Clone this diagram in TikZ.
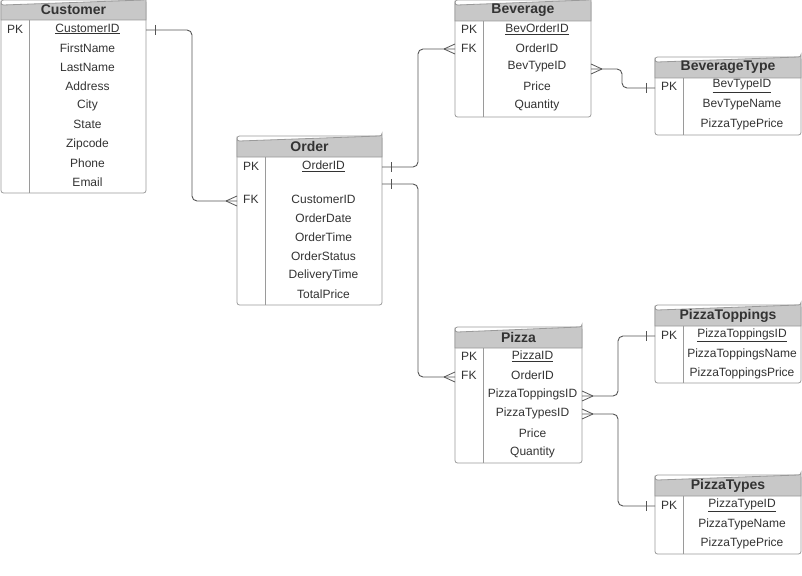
\documentclass[tikz,border=0pt]{standalone}
\usepackage{fontspec}
\setmainfont{Liberation Sans}
\begin{document}
\definecolor{hdr}{HTML}{C8C8C8}
\definecolor{brd}{HTML}{9A9A9A}
\definecolor{txt}{HTML}{333333}
\definecolor{ln}{HTML}{555555}
\tikzset{
  tbl/.style={draw=brd,line width=0.8pt,fill=white,rounded corners=2.5pt},
  hd/.style={draw=brd,line width=0.8pt,fill=hdr},
  title/.style={font=\fontsize{14}{14}\selectfont\bfseries,text=txt,inner sep=0},
  fld/.style={font=\fontsize{12}{12}\selectfont,text=txt,inner sep=0},
  conn/.style={draw=ln,line width=0.9pt,rounded corners=5pt},
  erm/.style={draw=ln,line width=0.8pt}
}
% #1 name, #2 x1, #3 x2, #4 ytop, #5 yhead, #6 ybot, #7 divider, #8 title
\newcommand\ertbl[8]{%
  \draw[tbl] (#2,#4) rectangle (#3,#6);
  \draw[hd] (#2,#5) -- (#2,#4+2.5) arc[start angle=180,end angle=90,radius=2.5] -- (#3-2.5,#4) arc[start angle=90,end angle=0,radius=2.5] -- (#3,#5) -- cycle;
  \draw[brd,line width=0.8pt] (#7,#5) -- (#7,#6);
  \node[title] (#1) at ({(#2+#3)/2},{(#4+#5)/2}) {#8};
}
\begin{tikzpicture}[x=1pt,y=-1pt]
\useasboundingbox (0,0) rectangle (802,575);
% Customer
\ertbl{cust}{1}{146}{0}{20}{193}{29}{Customer}
\node[fld] (c1) at (87.5,29) {\underline{CustomerID}};
\node[fld,anchor=west] (c1k) at (7,29) {PK};
\foreach \t/\y [count=\i] in {FirstName/48,LastName/67,Address/86,City/105,State/124,Zipcode/144,Phone/163,Email/182}
  \node[fld] (cf\i) at (87.5,\y) {\t};
% Order
\ertbl{ord}{237}{382}{136}{157}{305}{265}{Order}
\node[fld] (o1) at (323.5,166) {\underline{OrderID}};
\node[fld,anchor=west] (o1k) at (243,166) {PK};
\node[fld,anchor=west] (o2k) at (243,199) {FK};
\foreach \t/\y [count=\i] in {CustomerID/199,OrderDate/218,OrderTime/237,OrderStatus/256,DeliveryTime/275,TotalPrice/294}
  \node[fld] (of\i) at (323.5,\y) {\t};
% Beverage
\ertbl{bev}{455}{591}{0}{21}{117}{483}{Beverage}
\node[fld] (b1) at (537,29) {\underline{BevOrderID}};
\node[fld,anchor=west] (b1k) at (461,29) {PK};
\node[fld,anchor=west] (b2k) at (461,48) {FK};
\foreach \t/\y [count=\i] in {OrderID/48,BevTypeID/67,Price/86,Quantity/105}
  \node[fld] (bf\i) at (537,\y) {\t};
% BeverageType
\ertbl{bt}{655}{801}{57}{78}{135}{683}{BeverageType}
\node[fld] (t1) at (742,86) {\underline{BevTypeID}};
\node[fld,anchor=west] (t1k) at (661,86) {PK};
\foreach \t/\y [count=\i] in {BevTypeName/105,PizzaTypePrice/124}
  \node[fld] (tf\i) at (742,\y) {\t};
% Pizza
\ertbl{piz}{455}{582}{327}{348}{463}{483}{Pizza}
\node[fld] (p1) at (532.5,356) {\underline{PizzaID}};
\node[fld,anchor=west] (p1k) at (461,356) {PK};
\node[fld,anchor=west] (p2k) at (461,375) {FK};
\foreach \t/\y [count=\i] in {OrderID/375,PizzaToppingsID/394,PizzaTypesID/413,Price/433,Quantity/452}
  \node[fld] (pf\i) at (532.5,\y) {\t};
% PizzaToppings
\ertbl{top}{655}{801}{305}{326}{383}{683}{PizzaToppings}
\node[fld] (q1) at (742,335) {\underline{PizzaToppingsID}};
\node[fld,anchor=west] (q1k) at (661,335) {PK};
\foreach \t/\y [count=\i] in {PizzaToppingsName/354,PizzaToppingsPrice/373}
  \node[fld] (qf\i) at (742,\y) {\t};
% PizzaTypes
\ertbl{pty}{655}{801}{475}{496}{554}{683}{PizzaTypes}
\node[fld] (r1) at (742,505) {\underline{PizzaTypeID}};
\node[fld,anchor=west] (r1k) at (661,505) {PK};
\foreach \t/\y [count=\i] in {PizzaTypeName/524,PizzaTypePrice/543}
  \node[fld] (rf\i) at (742,\y) {\t};
% connector end points
\coordinate (cA) at (146,30); \coordinate (oA) at (237,201);
\coordinate (oB) at (382,167); \coordinate (bA) at (455,49);
\coordinate (oC) at (382,184); \coordinate (pA) at (455,377);
\coordinate (bB) at (591,69); \coordinate (tA) at (655,88);
\coordinate (pB) at (582,396); \coordinate (qA) at (655,336);
\coordinate (pC) at (582,414); \coordinate (rA) at (655,506);
\draw[conn] (cA) -| (192,115) |- (oA);
\draw[conn] (oB) -| (418,100) |- (bA);
\draw[conn] (oC) -| (418,300) |- (pA);
\draw[conn] (bB) -| (622,78) |- (tA);
\draw[conn] (pB) -| (618,360) |- (qA);
\draw[conn] (pC) -| (618,460) |- (rA);
% one marks
\foreach \c/\s in {cA/9,oB/9,oC/9,tA/-9,qA/-9,rA/-9}
  \draw[erm] ([xshift=\s pt,yshift=5pt]\c) -- ([xshift=\s pt,yshift=-5pt]\c);
% crow feet
\foreach \c/\s in {oA/-11,bA/-11,pA/-11,bB/11,pB/11,pC/11}{
  \draw[erm] ([xshift=\s pt]\c) -- ([yshift=5pt]\c);
  \draw[erm] ([xshift=\s pt]\c) -- ([yshift=-5pt]\c);
}
\end{tikzpicture}
\end{document}
